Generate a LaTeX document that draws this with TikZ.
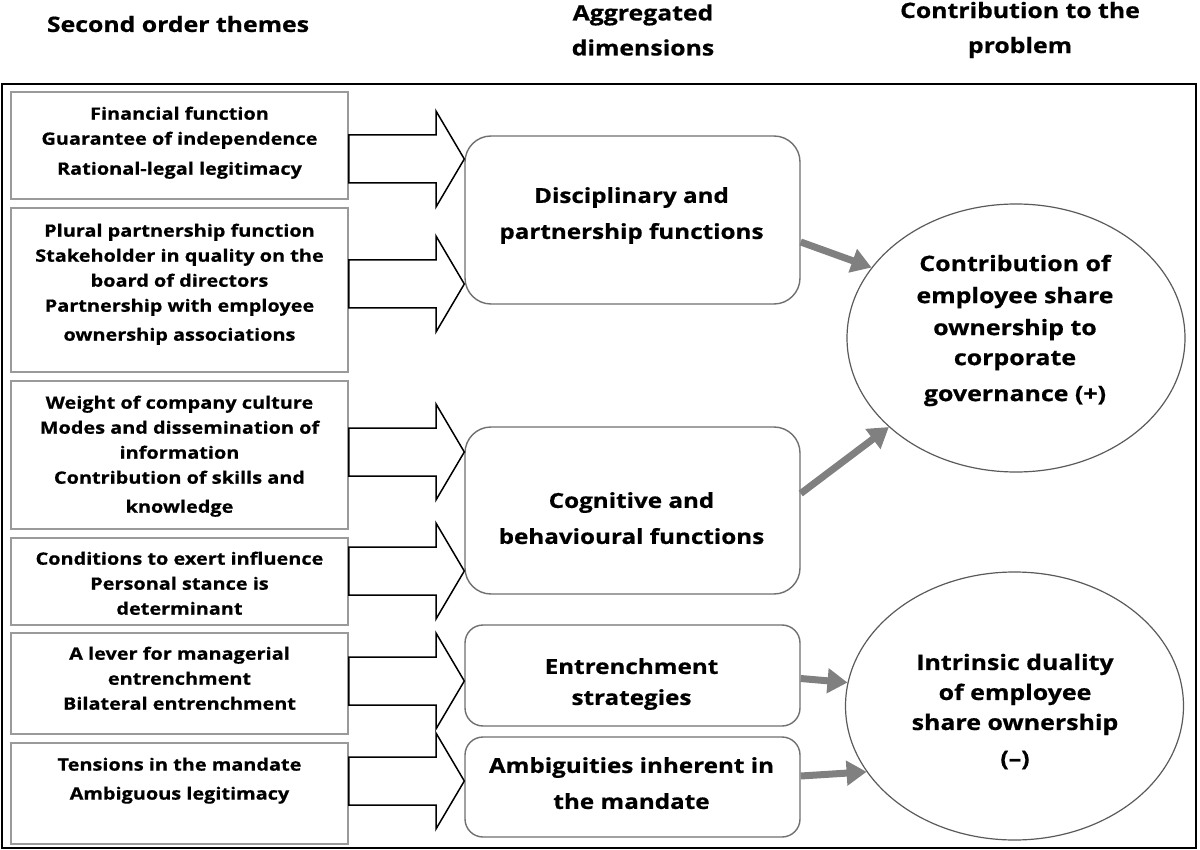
\documentclass[tikz,border=0pt]{standalone}
\usepackage{fontspec}
\setmainfont{Open Sans}[FakeStretch=1.17,BoldFeatures={FakeBold=0.6}]
\usetikzlibrary{arrows.meta,shapes.geometric}
\definecolor{lgray}{HTML}{9A9A9A}
\definecolor{mgray}{HTML}{707070}
\definecolor{egray}{HTML}{5A5A5A}
\definecolor{garrow}{HTML}{808080}
\newcommand\blockarr[3]{%
  \draw[blk] (#1.east |- 0,#3-24) -- (neck |- 0,#3-24) -- (neck |- 0,#3-48)
    -- (#2.west |- 0,#3) -- (neck |- 0,#3+48) -- (neck |- 0,#3+24)
    -- (#1.east |- 0,#3+24) -- cycle;}
\begin{document}
\begin{tikzpicture}[x=1pt,y=-1pt,
  lbox/.style={draw=lgray,line width=1.8pt,minimum width=337pt,inner sep=0pt,fill=white},
  ltxt/.style={font=\fontsize{17}{25}\selectfont\bfseries,align=center,anchor=north,inner sep=0pt},
  mbox/.style={draw=mgray,line width=1.4pt,minimum width=335pt,inner sep=0pt,fill=white},
  mtxt/.style={font=\fontsize{20.7}{36}\selectfont\bfseries,align=center,anchor=north,inner sep=0pt},
  ell/.style={ellipse,draw=egray,line width=1.2pt,minimum width=338pt,minimum height=268pt,inner sep=0pt},
  etxt/.style={font=\fontsize{21.3}{32}\selectfont\bfseries,align=center,anchor=north,inner sep=0pt},
  htxt/.style={font=\fontsize{21.2}{35}\selectfont\bfseries,align=center,inner sep=0pt},
  blk/.style={draw=black,line width=1.5pt,fill=white,line join=miter},
  garr/.style={draw=garrow,line width=7pt,-{Triangle[length=20pt,width=24pt]}},
]
\useasboundingbox (0,0) rectangle (1200,850);
\fill[white] (0,0) rectangle (1200,850);
% headings
\node[htxt] (h1) at (178,24) {Second order themes};
\node[htxt] (h2) at (643,30) {Aggregated\\dimensions};
\node[htxt] (h3) at (1020,30) {Contribution to the\\problem};
% frame
\draw[line width=2pt] (2,84) rectangle (1196,848);
% left boxes
\node[lbox,minimum height=107pt] (L1) at (179.5,145.5) {};
\node[lbox,minimum height=164pt] (L2) at (179.5,290) {};
\node[lbox,minimum height=148pt] (L3) at (179.5,455) {};
\node[lbox,minimum height=87pt] (L4) at (179.5,581.5) {};
\node[lbox,minimum height=101pt] (L5) at (179.5,683.5) {};
\node[lbox,minimum height=101pt] (L6) at (179.5,793.5) {};
\node[ltxt] (t1) at (179.5,106.5) {Financial function\\Guarantee of independence\\[5pt]Rational-legal legitimacy};
\node[ltxt] (t2) at (179.5,223.5) {Plural partnership function\\Stakeholder in quality on the\\board of directors\\Partnership with employee\\[4pt]ownership associations};
\node[ltxt] (t3) at (179.5,395.5) {Weight of company culture\\Modes and dissemination of\\information\\Contribution of skills and\\[4pt]knowledge};
\node[ltxt] (t4) at (179.5,551.5) {Conditions to exert influence\\Personal stance is\\determinant};
\node[ltxt] (t5) at (179.5,646.5) {A lever for managerial\\entrenchment\\Bilateral entrenchment};
\node[ltxt] (t6) at (179.5,757.5) {Tensions in the mandate\\[4pt]Ambiguous legitimacy};
% middle boxes
\node[mbox,rounded corners=26pt,minimum height=168pt] (A) at (632.5,220) {};
\node[mbox,rounded corners=26pt,minimum height=167pt] (B) at (632.5,510.5) {};
\node[mbox,rounded corners=18pt,minimum height=101pt] (C) at (632.5,675.5) {};
\node[mbox,rounded corners=18pt,minimum height=100pt] (D) at (632.5,787) {};
\node[mtxt] (tA) at (631.5,187) {Disciplinary and\\partnership functions};
\node[mtxt] (tB) at (631.5,492) {Cognitive and\\behavioural functions};
\node[mtxt] (tC) at (631.5,658) {Entrenchment\\[-5pt]strategies};
\node[mtxt] (tD) at (631.5,757) {Ambiguities inherent in\\the mandate};
% block arrows
\coordinate (neck) at (436,0);
\blockarr{L1}{A}{159}
\blockarr{L2}{A}{284}
\blockarr{L3}{B}{452}
\blockarr{L4}{B}{571}
\blockarr{L5}{C}{681}
\blockarr{L6}{D}{781}
% ellipses
\node[ell] (E1) at (1016,338) {};
\node[ell] (E2) at (1014.5,706) {};
\node[etxt] (tE1) at (1015,254.6) {Contribution of\\employee share\\ownership to\\[-2pt]corporate\\[4pt]governance (+)};
\node[etxt] (tE2) at (1015,653.6) {Intrinsic duality\\[-2pt]of employee\\[-2pt]share ownership\\[4pt](–)};
% grey arrows
\draw[garr] ([yshift=-22pt]A.east) -- (E1.154);
\draw[garr] ([yshift=17pt]B.east) -- (E1.215);
\draw[garr] ([yshift=-3pt]C.east) -- (E2.172);
\draw[garr] ([yshift=11pt]D.east) -- (E2.204);
\end{tikzpicture}
\end{document}
